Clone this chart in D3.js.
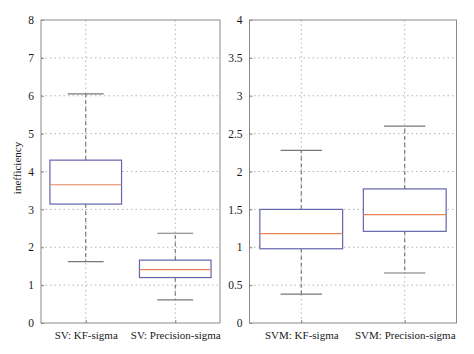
<!DOCTYPE html>
<html><head><meta charset="utf-8">
<script src="https://cdn.jsdelivr.net/npm/d3@7"></script>
<style>body{margin:0;background:#fff}svg{display:block}</style>
</head><body>
<svg id="c" width="474" height="354"></svg>
<script>
const leftCategories = ["SV: KF-sigma", "SV: Precision-sigma"];
const leftLowerWhisker = [1.62, 0.61];
const leftQ1 = [3.14, 1.20];
const leftMedian = [3.65, 1.41];
const leftQ3 = [4.30, 1.66];
const leftUpperWhisker = [6.05, 2.37];
const leftTicks = [0, 1, 2, 3, 4, 5, 6, 7, 8];

const rightCategories = ["SVM: KF-sigma", "SVM: Precision-sigma"];
const rightLowerWhisker = [0.38, 0.66];
const rightQ1 = [0.98, 1.21];
const rightMedian = [1.18, 1.43];
const rightQ3 = [1.50, 1.77];
const rightUpperWhisker = [2.28, 2.60];
const rightTicks = [0, 0.5, 1, 1.5, 2, 2.5, 3, 3.5, 4];

const svg = d3.select("#c");
const font = "'Liberation Serif', 'DejaVu Serif', serif";
const plotTop = 20, plotBottom = 323;

function panel(x0, x1, cats, lw, q1, med, q3, uw, ticks, ymax) {
  const g = svg.append("g");
  const x = d3.scaleLinear().domain([0.5, 2.5]).range([x0, x1]);
  const y = d3.scaleLinear().domain([0, ymax]).range([plotBottom, plotTop]);
  // grid
  g.selectAll(".hg").data(ticks.slice(1, -1)).join("line")
    .attr("x1", x0).attr("x2", x1).attr("y1", d => y(d)).attr("y2", d => y(d))
    .attr("stroke", "#b4b4b4").attr("stroke-width", 1).attr("stroke-dasharray", "1.5,3");
  g.selectAll(".vg").data([1, 2]).join("line")
    .attr("x1", d => x(d)).attr("x2", d => x(d)).attr("y1", plotTop).attr("y2", plotBottom)
    .attr("stroke", "#b4b4b4").attr("stroke-width", 1).attr("stroke-dasharray", "1.5,3");
  // axes
  const ya = d3.axisLeft(y).tickValues(ticks).tickSize(-3).tickPadding(7).tickFormat(d3.format("~g"));
  const ag = g.append("g").attr("transform", `translate(${x0},0)`).call(ya);
  ag.select(".domain").remove();
  ag.selectAll("line").attr("stroke", "#888");
  ag.selectAll("text").attr("font-family", font).attr("font-size", 11.5).attr("fill", "#1a1a1a");
  const xa = d3.axisBottom(x).tickValues([1, 2]).tickSize(-3).tickPadding(8).tickFormat((d, i) => cats[i]);
  const xg = g.append("g").attr("transform", `translate(0,${plotBottom})`).call(xa);
  xg.select(".domain").remove();
  xg.selectAll("line").attr("stroke", "#888");
  xg.selectAll("text").attr("font-family", font).attr("font-size", 11).attr("fill", "#1a1a1a");
  // frame
  g.append("rect").attr("x", x0).attr("y", plotTop).attr("width", x1 - x0).attr("height", plotBottom - plotTop)
    .attr("fill", "none").attr("stroke", "#8a8a8a").attr("stroke-width", 1);
  const idx = [0, 1];
  const bw = x(1.4) - x(1);
  const cw = x(1.2) - x(1);
  // whiskers
  g.selectAll(".wu").data(idx).join("line")
    .attr("x1", i => x(i + 1)).attr("x2", i => x(i + 1))
    .attr("y1", i => y(q3[i])).attr("y2", i => y(uw[i]))
    .attr("stroke", "#666").attr("stroke-dasharray", "4,3");
  g.selectAll(".wl").data(idx).join("line")
    .attr("x1", i => x(i + 1)).attr("x2", i => x(i + 1))
    .attr("y1", i => y(q1[i])).attr("y2", i => y(lw[i]))
    .attr("stroke", "#666").attr("stroke-dasharray", "4,3");
  g.selectAll(".cu").data(idx).join("line")
    .attr("x1", i => x(i + 1) - cw).attr("x2", i => x(i + 1) + cw)
    .attr("y1", i => y(uw[i])).attr("y2", i => y(uw[i]))
    .attr("stroke", "#777").attr("stroke-width", 1.2);
  g.selectAll(".cl").data(idx).join("line")
    .attr("x1", i => x(i + 1) - cw).attr("x2", i => x(i + 1) + cw)
    .attr("y1", i => y(lw[i])).attr("y2", i => y(lw[i]))
    .attr("stroke", "#777").attr("stroke-width", 1.2);
  // boxes
  g.selectAll(".bx").data(idx).join("rect")
    .attr("x", i => x(i + 1) - bw).attr("width", 2 * bw)
    .attr("y", i => y(q3[i])).attr("height", i => y(q1[i]) - y(q3[i]))
    .attr("fill", "#fff").attr("stroke", "#6464ac").attr("stroke-width", 1.2);
  g.selectAll(".md").data(idx).join("line")
    .attr("x1", i => x(i + 1) - bw).attr("x2", i => x(i + 1) + bw)
    .attr("y1", i => y(med[i])).attr("y2", i => y(med[i]))
    .attr("stroke", "#e8845c").attr("stroke-width", 1.2);
}

panel(41, 220, leftCategories, leftLowerWhisker, leftQ1, leftMedian, leftQ3, leftUpperWhisker, leftTicks, 8);
panel(249.5, 456.5, rightCategories, rightLowerWhisker, rightQ1, rightMedian, rightQ3, rightUpperWhisker, rightTicks, 4);

svg.append("text").attr("transform", "translate(21,168) rotate(-90)")
  .attr("text-anchor", "middle").attr("font-family", font).attr("font-size", 11).attr("fill", "#1a1a1a")
  .text("inefficiency");
</script>
</body></html>
